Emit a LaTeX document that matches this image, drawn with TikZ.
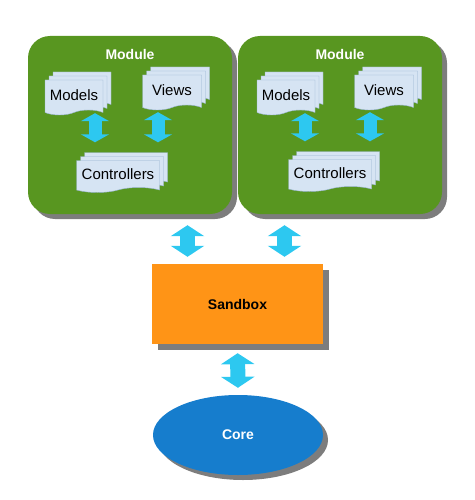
\documentclass[tikz,border=0pt]{standalone}
\usepackage{fontspec}
\setmainfont{Liberation Sans}
\usetikzlibrary{positioning,shapes.symbols,shapes.geometric,shadows,arrows.meta}

\definecolor{modgreen}{RGB}{88,150,32}
\definecolor{docblue}{RGB}{214,228,243}
\definecolor{docline}{RGB}{150,178,208}
\definecolor{flowcyan}{RGB}{45,200,240}
\definecolor{boxorange}{RGB}{255,148,22}
\definecolor{coreblue}{RGB}{22,125,205}
\definecolor{shadowgray}{RGB}{125,125,125}

\begin{document}
\begin{tikzpicture}[x=1pt, y=-1pt,
  module/.style={fill=modgreen, rounded corners=22pt, minimum width=204pt, minimum height=178pt,
    drop shadow={shadow xshift=5pt, shadow yshift=-5pt, fill=shadowgray, opacity=1}},
  title/.style={text=white, font=\fontsize{14}{16}\selectfont\bfseries},
  doc/.style={tape, tape bend top=none, tape bend height=5pt, fill=docblue, draw=docline, inner sep=0pt,
    font=\fontsize{15}{17}\selectfont,
    copy shadow={shadow xshift=8pt, shadow yshift=8pt, fill=docblue, draw=docline},
    copy shadow={shadow xshift=4pt, shadow yshift=4pt, fill=docblue, draw=docline}},
  flow/.style={<->, >={Triangle[width=28pt,length=8pt]}, line width=13pt, draw=flowcyan},
  bigflow/.style={<->, >={Triangle[width=33pt,length=11pt]}, line width=15pt, draw=flowcyan}]

  \useasboundingbox (0,0) rectangle (474,500);

  % First module
  \node[module] (Mod1) at (130,125) {};
  \node[title, below=10pt of Mod1.north] (T1) {Module};
  \node[doc, minimum width=58pt, minimum height=35pt] (Mdl1) at (74,95) {Models};
  \node[doc, minimum width=59pt, minimum height=35pt] (Vw1) at (172,90) {Views};
  \node[doc, minimum width=83pt, minimum height=32pt] (Ctl1) at (118,174) {Controllers};

  % Second module
  \node[module] (Mod2) at (340,125) {};
  \node[title, below=10pt of Mod2.north] (T2) {Module};
  \node[doc, minimum width=58pt, minimum height=35pt] (Mdl2) at (286,95) {Models};
  \node[doc, minimum width=59pt, minimum height=35pt] (Vw2) at (384,90) {Views};
  \node[doc, minimum width=83pt, minimum height=32pt] (Ctl2) at (330,173) {Controllers};

  % Sandbox and core
  \node[fill=boxorange, minimum width=171pt, minimum height=80pt, title, text=black,
    drop shadow={shadow xshift=6pt, shadow yshift=-6pt, fill=shadowgray, opacity=1}] (SB) at (237.5,304) {Sandbox};
  \node[ellipse, fill=coreblue, minimum width=170pt, minimum height=80pt, title,
    drop shadow={shadow xshift=5pt, shadow yshift=-5pt, fill=shadowgray, opacity=1}] (Core) at (238,435) {Core};

  % Arrows inside modules
  \draw[flow, shorten <=3pt, shorten >=18pt] ([xshift=21pt]Mdl1.south) -- ([xshift=21pt]Mdl1.south |- Ctl1.north);
  \draw[flow, shorten <=7pt, shorten >=18pt] ([xshift=-14pt]Vw1.south) -- ([xshift=-14pt]Vw1.south |- Ctl1.north);
  \draw[flow, shorten <=3pt, shorten >=18pt] ([xshift=19pt]Mdl2.south) -- ([xshift=19pt]Mdl2.south |- Ctl2.north);
  \draw[flow, shorten <=7pt, shorten >=18pt] ([xshift=-14pt]Vw2.south) -- ([xshift=-14pt]Vw2.south |- Ctl2.north);

  % Arrows to sandbox and core
  \draw[bigflow, shorten <=11pt, shorten >=7pt] ([xshift=-50pt]SB.north |- Mod1.south) -- ([xshift=-50pt]SB.north);
  \draw[bigflow, shorten <=11pt, shorten >=7pt] ([xshift=47pt]SB.north |- Mod2.south) -- ([xshift=47pt]SB.north);
  \draw[bigflow, shorten <=9pt, shorten >=7pt] (SB.south) -- (Core.north);

\end{tikzpicture}
\end{document}
